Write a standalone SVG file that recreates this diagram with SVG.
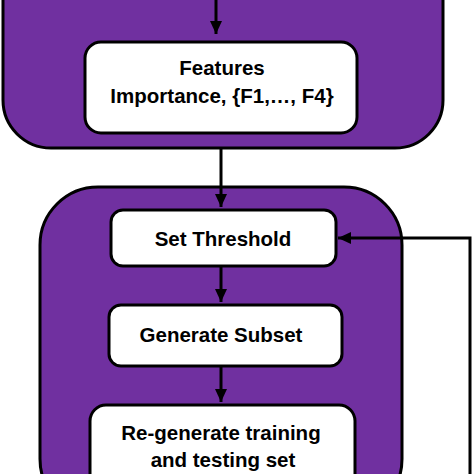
<svg xmlns="http://www.w3.org/2000/svg" width="474" height="474" viewBox="0 0 474 474">
<defs>
<style>
.cont{fill:#7030a0;stroke:#000;stroke-width:3}
.box{fill:#fff;stroke:#000;stroke-width:3}
.lbl{font-family:"Liberation Sans",Arial,sans-serif;font-weight:bold;font-size:20.5px;fill:#000;text-anchor:middle}
.conn{fill:none;stroke:#000;stroke-width:3}
</style>
<marker id="ah" markerUnits="userSpaceOnUse" markerWidth="13" markerHeight="12" refX="13" refY="6" orient="auto">
<path d="M0,0 L13,6 L0,12 z" fill="#000"/>
</marker>
</defs>
<rect width="474" height="474" fill="#fff"/>
<g id="stage1">
<rect class="cont" x="3" y="-100" width="440" height="248" rx="48"/>
</g>
<g id="stage2">
<rect class="cont" x="40" y="187" width="362" height="330" rx="58"/>
</g>
<g id="features">
<rect class="box" x="85" y="42" width="272" height="91" rx="16"/>
<text class="lbl" x="222" y="75">Features</text>
<text class="lbl" x="222" y="103">Importance, {F1,…, F4}</text>
</g>
<g id="threshold">
<rect class="box" x="111" y="210" width="225" height="56" rx="12"/>
<text class="lbl" x="223" y="246">Set Threshold</text>
</g>
<g id="subset">
<rect class="box" x="109" y="305" width="233" height="61" rx="12"/>
<text class="lbl" x="221" y="342">Generate Subset</text>
</g>
<g id="regenerate">
<rect class="box" x="90" y="405" width="265" height="100" rx="16"/>
<text class="lbl" x="221" y="440">Re-generate training</text>
<text class="lbl" x="223" y="467">and testing set</text>
</g>
<g id="connectors">
<line class="conn" x1="216" y1="0" x2="216" y2="34" marker-end="url(#ah)"/>
<line class="conn" x1="221" y1="148" x2="221" y2="207" marker-end="url(#ah)"/>
<line class="conn" x1="221" y1="266" x2="221" y2="302" marker-end="url(#ah)"/>
<line class="conn" x1="221" y1="366" x2="221" y2="402" marker-end="url(#ah)"/>
<polyline class="conn" points="470,480 470,238 338,238" marker-end="url(#ah)"/>
</g>
</svg>
